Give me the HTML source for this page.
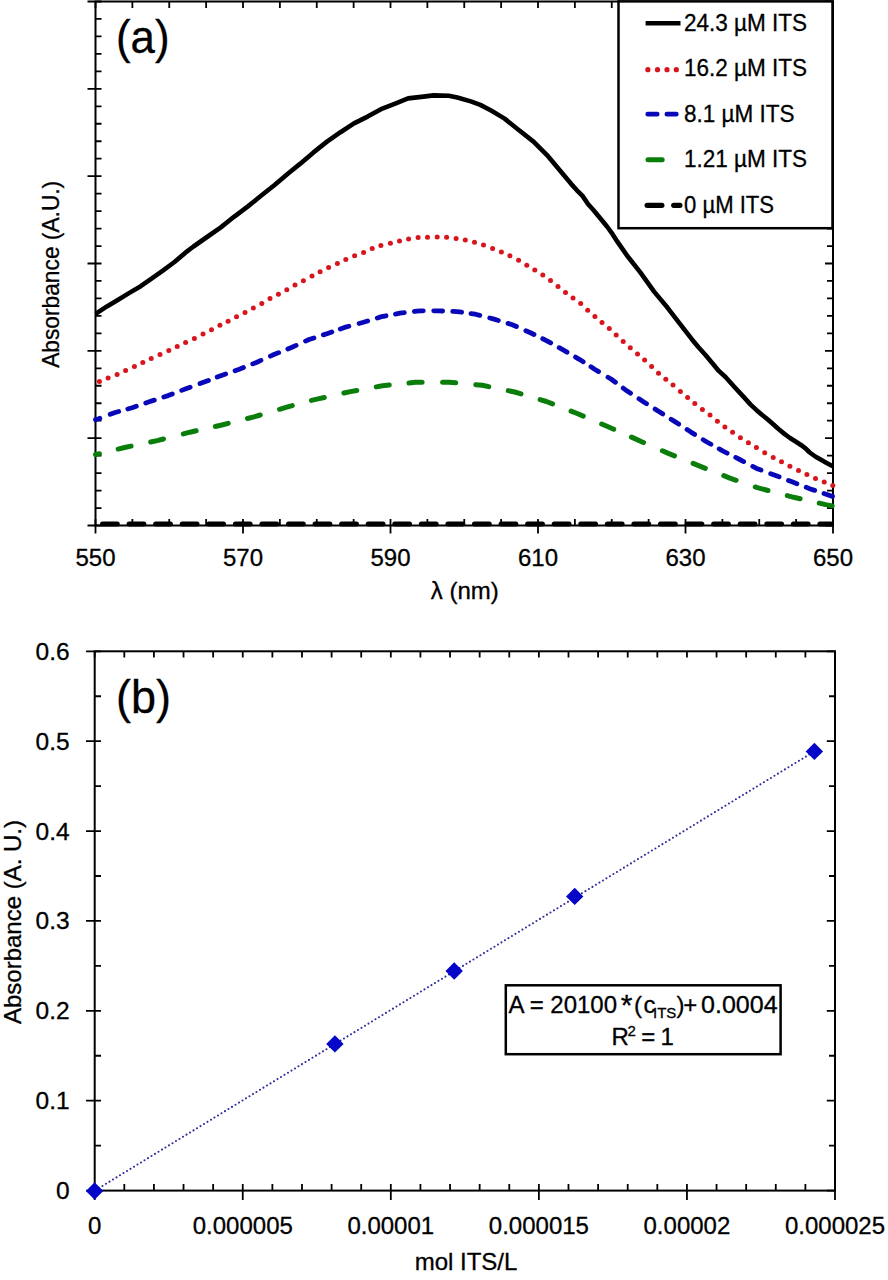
<!DOCTYPE html><html><head><meta charset="utf-8"><style>html,body{margin:0;padding:0;background:#fff}svg{display:block}</style></head><body><svg width="888" height="1280" viewBox="0 0 888 1280" style="font-family:'Liberation Sans',sans-serif">
<style>text{stroke:#000;stroke-width:0.3px}</style>
<rect width="888" height="1280" fill="#fff"/>
<path d="M87.5 1.50H101.5M95.5 18.97H101.5M95.5 36.43H101.5M95.5 53.90H101.5M95.5 71.37H101.5M87.5 88.83H101.5M95.5 106.30H101.5M95.5 123.77H101.5M95.5 141.23H101.5M95.5 158.70H101.5M87.5 176.17H101.5M95.5 193.63H101.5M95.5 211.10H101.5M95.5 228.57H101.5M95.5 246.03H101.5M87.5 263.50H101.5M95.5 280.97H101.5M95.5 298.43H101.5M95.5 315.90H101.5M95.5 333.37H101.5M87.5 350.83H101.5M95.5 368.30H101.5M95.5 385.77H101.5M95.5 403.23H101.5M95.5 420.70H101.5M87.5 438.17H101.5M95.5 455.63H101.5M95.5 473.10H101.5M95.5 490.57H101.5M95.5 508.03H101.5M87.5 525.50H101.5M825 1.50H833.0M827 18.97H833.0M827 36.43H833.0M827 53.90H833.0M827 71.37H833.0M825 88.83H833.0M827 106.30H833.0M827 123.77H833.0M827 141.23H833.0M827 158.70H833.0M825 176.17H833.0M827 193.63H833.0M827 211.10H833.0M827 228.57H833.0M827 246.03H833.0M825 263.50H833.0M827 280.97H833.0M827 298.43H833.0M827 315.90H833.0M827 333.37H833.0M825 350.83H833.0M827 368.30H833.0M827 385.77H833.0M827 403.23H833.0M827 420.70H833.0M825 438.17H833.0M827 455.63H833.0M827 473.10H833.0M827 490.57H833.0M827 508.03H833.0M825 525.50H833.0M95.50 519V533.5M132.38 519V525.5M169.25 519V525.5M206.12 519V525.5M243.00 519V533.5M279.88 519V525.5M316.75 519V525.5M353.62 519V525.5M390.50 519V533.5M427.38 519V525.5M464.25 519V525.5M501.12 519V525.5M538.00 519V533.5M574.88 519V525.5M611.75 519V525.5M648.62 519V525.5M685.50 519V533.5M722.38 519V525.5M759.25 519V525.5M796.12 519V525.5M833.00 519V533.5M95.50 1.5V8M132.38 1.5V8M169.25 1.5V8M206.12 1.5V8M243.00 1.5V8M279.88 1.5V8M316.75 1.5V8M353.62 1.5V8M390.50 1.5V8M427.38 1.5V8M464.25 1.5V8M501.12 1.5V8M538.00 1.5V8M574.88 1.5V8M611.75 1.5V8M648.62 1.5V8M685.50 1.5V8M722.38 1.5V8M759.25 1.5V8M796.12 1.5V8M833.00 1.5V8" stroke="#000" stroke-width="1.8" fill="none"/>
<rect x="95.5" y="1.5" width="737.5" height="524.0" fill="none" stroke="#000" stroke-width="2"/>
<path d="M95.50 454.50L98.10 454.00L99.41 453.68M118.19 449.07L124.60 447.50L131.06 446.13M150.64 441.97L157.10 440.60L163.49 438.97M183.31 433.91L190.00 432.20L196.14 430.81M215.36 426.46L221.80 425.00L228.20 423.39M247.50 418.51L253.90 416.90L260.23 415.02M279.57 409.28L285.90 407.40L292.25 405.61M311.43 400.36L318.00 398.90L324.31 397.47M343.86 393.05L350.30 391.60L356.79 390.42M376.21 386.88L382.70 385.70L389.26 385.00M408.94 382.90L415.50 382.20L422.10 382.20M442.60 382.20L449.20 382.20L455.77 382.82M475.73 384.68L482.30 385.30L488.76 386.64M508.24 390.66L514.70 392.00L521.02 393.89M540.08 399.61L546.40 401.50L552.55 403.90M571.05 411.10L577.20 413.50L583.27 416.10M601.63 423.98L607.50 426.50L613.73 429.25M631.50 437.11L636.00 439.10L642.70 442.20L643.52 442.56M662.35 450.76L668.40 453.40L674.52 455.88M693.08 463.42L699.20 465.90L705.33 468.34M723.77 475.66L729.90 478.10L736.13 480.28M755.25 486.98L757.30 487.70L767.97 490.51M787.32 495.62L793.70 497.30L800.13 498.77M819.27 503.13L825.70 504.60L832.18 505.88" fill="none" stroke="#0a7d0a" stroke-width="5" stroke-linecap="round" stroke-linejoin="round"/>
<path d="M95.50 419.60L98.75 418.75L99.82 418.34M110.20 414.36L114.40 412.75L118.73 411.53M127.77 408.97L132.10 407.75L136.35 406.27M145.75 402.98L150.00 401.50L154.28 400.11M163.82 396.99L168.10 395.60L172.30 393.98M181.70 390.37L185.90 388.75L190.12 387.19M199.98 383.56L204.20 382.00L208.41 380.41M217.19 377.09L221.40 375.50L225.64 374.01M235.06 370.69L239.30 369.20L243.48 367.54M252.72 363.86L256.90 362.20L261.01 360.36M270.39 356.14L274.50 354.30L278.68 352.63M287.82 348.97L292.00 347.30L296.09 345.42M305.52 341.10L309.00 339.50L313.92 337.91M323.32 334.88L327.60 333.50L331.83 331.97M340.27 328.93L344.50 327.40L348.84 326.23M359.06 323.47L363.40 322.30L367.69 320.96M377.31 317.94L381.60 316.60L386.02 315.78M395.48 314.02L399.90 313.20L404.37 312.67M414.35 311.47L420.00 310.80L423.31 310.80M433.70 310.80L438.20 310.80L442.70 310.99M452.70 311.41L457.20 311.60L461.65 312.24M470.95 313.56L475.40 314.20L479.75 315.34M489.75 317.96L494.10 319.10L498.40 320.42M508.00 323.38L512.30 324.70L516.41 326.53M525.84 330.71L531.00 333.00L534.01 334.48M542.70 338.74L546.90 340.80L550.67 342.92M559.19 347.70L563.10 349.90L567.00 352.17M575.51 357.10L579.30 359.30L583.17 361.81M590.94 366.83L594.60 369.20L598.58 371.58M607.99 377.20L611.00 379.00L615.41 382.29M623.19 388.11L626.80 390.80L630.55 393.28M638.97 398.84L643.00 401.50L646.53 403.72M655.09 409.10L658.90 411.50L662.71 413.90M671.09 419.20L674.90 421.60L678.66 424.07M687.04 429.57L690.90 432.10L694.63 434.41M703.16 439.68L706.90 442.00L710.91 444.25M719.18 448.90L723.10 451.10L727.12 453.13M735.68 457.47L739.70 459.50L743.68 461.61M752.77 466.43L756.50 468.40L760.98 470.06M770.68 473.64L774.90 475.20L779.10 476.83M788.50 480.47L792.70 482.10L796.90 483.71M806.20 487.29L810.40 488.90L814.66 490.36M823.94 493.54L828.20 495.00L832.48 496.40" fill="none" stroke="#0808b8" stroke-width="4.8" stroke-linecap="round" stroke-linejoin="round"/>
<g fill="#d8141c"><circle cx="99.4" cy="381.5" r="2.5"/><circle cx="108.1" cy="378.1" r="2.5"/><circle cx="117.1" cy="374.6" r="2.5"/><circle cx="125.6" cy="370.4" r="2.5"/><circle cx="134.4" cy="366.6" r="2.5"/><circle cx="142.8" cy="362.5" r="2.5"/><circle cx="151.2" cy="358.5" r="2.5"/><circle cx="160.0" cy="354.4" r="2.5"/><circle cx="168.8" cy="350.6" r="2.5"/><circle cx="177.2" cy="346.5" r="2.5"/><circle cx="185.6" cy="342.5" r="2.5"/><circle cx="194.4" cy="338.5" r="2.5"/><circle cx="203.0" cy="334.1" r="2.5"/><circle cx="211.5" cy="329.7" r="2.5"/><circle cx="219.9" cy="325.3" r="2.5"/><circle cx="228.1" cy="321.2" r="2.5"/><circle cx="236.5" cy="316.8" r="2.5"/><circle cx="245.0" cy="312.4" r="2.5"/><circle cx="253.4" cy="308.1" r="2.5"/><circle cx="261.8" cy="303.4" r="2.5"/><circle cx="270.0" cy="298.6" r="2.5"/><circle cx="278.4" cy="294.2" r="2.5"/><circle cx="286.8" cy="289.7" r="2.5"/><circle cx="295.0" cy="285.0" r="2.5"/><circle cx="303.4" cy="280.7" r="2.5"/><circle cx="312.0" cy="276.1" r="2.5"/><circle cx="320.1" cy="271.8" r="2.5"/><circle cx="328.6" cy="267.6" r="2.5"/><circle cx="337.4" cy="263.5" r="2.5"/><circle cx="345.8" cy="259.5" r="2.5"/><circle cx="354.6" cy="255.8" r="2.5"/><circle cx="363.6" cy="252.4" r="2.5"/><circle cx="372.2" cy="248.4" r="2.5"/><circle cx="380.9" cy="245.4" r="2.5"/><circle cx="390.4" cy="243.2" r="2.5"/><circle cx="399.5" cy="240.9" r="2.5"/><circle cx="408.6" cy="238.9" r="2.5"/><circle cx="418.1" cy="237.6" r="2.5"/><circle cx="427.5" cy="237.3" r="2.5"/><circle cx="437.2" cy="236.9" r="2.5"/><circle cx="446.6" cy="237.3" r="2.5"/><circle cx="456.1" cy="238.5" r="2.5"/><circle cx="465.3" cy="240.0" r="2.5"/><circle cx="474.5" cy="242.3" r="2.5"/><circle cx="483.5" cy="245.1" r="2.5"/><circle cx="492.6" cy="248.5" r="2.5"/><circle cx="501.4" cy="252.0" r="2.5"/><circle cx="509.9" cy="255.8" r="2.5"/><circle cx="518.6" cy="260.3" r="2.5"/><circle cx="526.8" cy="265.3" r="2.5"/><circle cx="534.8" cy="270.1" r="2.5"/><circle cx="542.8" cy="275.1" r="2.5"/><circle cx="550.5" cy="280.5" r="2.5"/><circle cx="558.0" cy="286.4" r="2.5"/><circle cx="565.5" cy="292.4" r="2.5"/><circle cx="573.0" cy="298.1" r="2.5"/><circle cx="580.7" cy="303.6" r="2.5"/><circle cx="587.7" cy="310.3" r="2.5"/><circle cx="594.9" cy="316.5" r="2.5"/><circle cx="602.0" cy="322.6" r="2.5"/><circle cx="609.3" cy="328.6" r="2.5"/><circle cx="616.2" cy="335.0" r="2.5"/><circle cx="623.2" cy="341.5" r="2.5"/><circle cx="630.3" cy="347.7" r="2.5"/><circle cx="637.5" cy="353.9" r="2.5"/><circle cx="644.6" cy="360.0" r="2.5"/><circle cx="651.6" cy="366.5" r="2.5"/><circle cx="658.5" cy="373.2" r="2.5"/><circle cx="665.8" cy="379.3" r="2.5"/><circle cx="673.0" cy="385.1" r="2.5"/><circle cx="680.4" cy="391.5" r="2.5"/><circle cx="687.6" cy="397.6" r="2.5"/><circle cx="694.8" cy="403.6" r="2.5"/><circle cx="702.4" cy="409.5" r="2.5"/><circle cx="710.0" cy="415.1" r="2.5"/><circle cx="717.4" cy="421.2" r="2.5"/><circle cx="724.9" cy="426.9" r="2.5"/><circle cx="732.6" cy="432.3" r="2.5"/><circle cx="740.4" cy="437.7" r="2.5"/><circle cx="748.4" cy="442.8" r="2.5"/><circle cx="756.4" cy="447.5" r="2.5"/><circle cx="764.7" cy="452.8" r="2.5"/><circle cx="773.2" cy="457.4" r="2.5"/><circle cx="781.5" cy="461.8" r="2.5"/><circle cx="789.9" cy="466.2" r="2.5"/><circle cx="798.5" cy="470.4" r="2.5"/><circle cx="806.9" cy="474.5" r="2.5"/><circle cx="815.5" cy="478.4" r="2.5"/><circle cx="824.2" cy="482.1" r="2.5"/><circle cx="832.8" cy="485.6" r="2.5"/></g>
<polyline points="95.6,313.8 106.9,306.4 118.2,299.7 129.4,292.9 140.7,286.2 151.9,278.3 163.2,270.4 174.5,262.0 185.7,252.4 193.5,246.5 207.0,237.0 220.5,227.6 234.0,216.8 247.6,206.6 261.0,195.8 274.6,185.0 288.1,173.5 300.0,163.9 313.5,152.4 327.0,141.6 340.5,132.2 354.0,123.4 367.6,116.6 381.0,109.2 394.6,103.8 408.1,98.4 423.5,96.6 433.5,95.4 448.8,95.8 457.3,97.5 470.8,101.4 480.3,104.9 491.1,110.5 504.6,118.6 518.1,129.5 533.5,141.6 547.0,155.1 561.0,171.8 571.3,184.1 576.9,190.3 582.5,195.9 588.2,204.3 593.8,210.5 599.4,217.3 607.0,226.5 612.4,233.9 617.2,241.4 621.9,248.1 627.0,255.5 640.5,272.7 654.1,291.6 667.6,307.8 681.1,325.4 685.0,330.4 691.8,339.2 698.5,347.3 705.3,354.7 712.0,362.8 718.8,370.9 725.5,377.0 734.0,386.5 745.0,398.4 750.6,404.6 756.3,409.9 761.9,414.7 767.5,419.2 773.2,424.3 778.8,429.3 784.4,433.9 790.0,438.0 795.6,441.5 801.3,445.2 805.8,448.6 809.7,452.5 815.3,456.5 821.0,459.8 826.6,462.9 832.8,466.3" fill="none" stroke="#000" stroke-width="4.6" stroke-linejoin="round"/>
<line x1="102.5" y1="524.1" x2="831" y2="524.1" stroke="#000" stroke-width="5" stroke-linecap="round" stroke-dasharray="14.8 11.77"/>
<rect x="618.5" y="1.4" width="214" height="226.8" fill="#fff" stroke="#000" stroke-width="2.5"/>
<line x1="645.6" y1="23.2" x2="680.5" y2="23.2" stroke="#000" stroke-width="4.6"/>
<g fill="#d8141c"><circle cx="647.9" cy="69.7" r="2.6"/><circle cx="657.5" cy="69.7" r="2.6"/><circle cx="667" cy="69.7" r="2.6"/><circle cx="676.3" cy="69.7" r="2.6"/></g>
<path d="M647.8 114.2H657.2M666.9 114.2H676.3" stroke="#0808b8" stroke-width="4.8" stroke-linecap="round"/>
<path d="M648 159.7H662.2" stroke="#0a7d0a" stroke-width="5" stroke-linecap="round"/>
<path d="M647.1 205.3H661.9M673.7 205.3H679.9" stroke="#000" stroke-width="5.2" stroke-linecap="round"/>
<text x="684" y="31.0" font-size="24" textLength="123.1" lengthAdjust="spacingAndGlyphs">24.3 µM ITS</text>
<text x="684" y="76.4" font-size="24" textLength="123.1" lengthAdjust="spacingAndGlyphs">16.2 µM ITS</text>
<text x="684" y="121.8" font-size="24" textLength="110.5" lengthAdjust="spacingAndGlyphs">8.1 µM ITS</text>
<text x="684" y="167.2" font-size="24" textLength="123.1" lengthAdjust="spacingAndGlyphs">1.21 µM ITS</text>
<text x="684" y="212.6" font-size="24" textLength="90" lengthAdjust="spacingAndGlyphs">0 µM ITS</text>
<text x="116" y="53.3" font-size="46" textLength="53.6" lengthAdjust="spacingAndGlyphs">(a)</text>
<text x="95.5" y="566" font-size="24" text-anchor="middle">550</text>
<text x="243.0" y="566" font-size="24" text-anchor="middle">570</text>
<text x="390.5" y="566" font-size="24" text-anchor="middle">590</text>
<text x="538.0" y="566" font-size="24" text-anchor="middle">610</text>
<text x="685.5" y="566" font-size="24" text-anchor="middle">630</text>
<text x="833.0" y="566" font-size="24" text-anchor="middle">650</text>
<text x="464.8" y="598.6" font-size="24" text-anchor="middle">λ (nm)</text>
<text transform="translate(58.7 274.3) rotate(-90)" font-size="24" text-anchor="middle" textLength="187" lengthAdjust="spacingAndGlyphs">Absorbance (A.U.)</text>
<path d="M86 651.30H101M826.8 651.30H835.0M94.7 696.24H101M829 696.24H835.0M86 741.18H101M826.8 741.18H835.0M94.7 786.12H101M829 786.12H835.0M86 831.07H101M826.8 831.07H835.0M94.7 876.01H101M829 876.01H835.0M86 920.95H101M826.8 920.95H835.0M94.7 965.89H101M829 965.89H835.0M86 1010.83H101M826.8 1010.83H835.0M94.7 1055.77H101M829 1055.77H835.0M86 1100.72H101M826.8 1100.72H835.0M94.7 1145.66H101M829 1145.66H835.0M86 1190.60H101M826.8 1190.60H835.0M94.70 1184V1200M94.70 651.3V657.5M124.31 1184V1190.6M124.31 651.3V657.5M153.92 1184V1190.6M153.92 651.3V657.5M183.54 1184V1190.6M183.54 651.3V657.5M213.15 1184V1190.6M213.15 651.3V657.5M242.76 1184V1200M242.76 651.3V657.5M272.37 1184V1190.6M272.37 651.3V657.5M301.98 1184V1190.6M301.98 651.3V657.5M331.60 1184V1190.6M331.60 651.3V657.5M361.21 1184V1190.6M361.21 651.3V657.5M390.82 1184V1200M390.82 651.3V657.5M420.43 1184V1190.6M420.43 651.3V657.5M450.04 1184V1190.6M450.04 651.3V657.5M479.66 1184V1190.6M479.66 651.3V657.5M509.27 1184V1190.6M509.27 651.3V657.5M538.88 1184V1200M538.88 651.3V657.5M568.49 1184V1190.6M568.49 651.3V657.5M598.10 1184V1190.6M598.10 651.3V657.5M627.72 1184V1190.6M627.72 651.3V657.5M657.33 1184V1190.6M657.33 651.3V657.5M686.94 1184V1200M686.94 651.3V657.5M716.55 1184V1190.6M716.55 651.3V657.5M746.16 1184V1190.6M746.16 651.3V657.5M775.78 1184V1190.6M775.78 651.3V657.5M805.39 1184V1190.6M805.39 651.3V657.5M835.00 1184V1200M835.00 651.3V657.5" stroke="#000" stroke-width="1.8" fill="none"/>
<rect x="94.7" y="651.3" width="740.3" height="539.3" fill="none" stroke="#000" stroke-width="2"/>
<text x="69.6" y="1199.0" font-size="24.5" text-anchor="end">0</text>
<text x="69.6" y="1109.1" font-size="24.5" text-anchor="end">0.1</text>
<text x="69.6" y="1019.2" font-size="24.5" text-anchor="end">0.2</text>
<text x="69.6" y="929.3" font-size="24.5" text-anchor="end">0.3</text>
<text x="69.6" y="839.5" font-size="24.5" text-anchor="end">0.4</text>
<text x="69.6" y="749.6" font-size="24.5" text-anchor="end">0.5</text>
<text x="69.6" y="659.7" font-size="24.5" text-anchor="end">0.6</text>
<text x="94.7" y="1234" font-size="24" text-anchor="middle">0</text>
<text x="242.8" y="1234" font-size="24" text-anchor="middle">0.000005</text>
<text x="390.8" y="1234" font-size="24" text-anchor="middle">0.00001</text>
<text x="538.9" y="1234" font-size="24" text-anchor="middle">0.000015</text>
<text x="686.9" y="1234" font-size="24" text-anchor="middle">0.00002</text>
<text x="835.0" y="1234" font-size="24" text-anchor="middle">0.000025</text>
<text x="466" y="1269.8" font-size="24" text-anchor="middle">mol ITS/L</text>
<text transform="translate(21.3 922) rotate(-90)" font-size="24" text-anchor="middle">Absorbance (A. U.)</text>
<text x="116" y="712.8" font-size="47" textLength="55" lengthAdjust="spacingAndGlyphs">(b)</text>
<line x1="95.5" y1="1190.2" x2="814.4" y2="751.4" stroke="#2c2c9c" stroke-width="2.1" stroke-linecap="round" stroke-dasharray="0 4.1"/>
<path d="M94.6 1182.3L103.3 1191.0L94.6 1199.7L85.9 1191.0Z" fill="#0606c8"/>
<path d="M334.9 1035.2L343.6 1043.9L334.9 1052.6L326.2 1043.9Z" fill="#0606c8"/>
<path d="M454.2 962.3L462.9 971.0L454.2 979.7L445.5 971.0Z" fill="#0606c8"/>
<path d="M574.7 887.7L583.4 896.4L574.7 905.1L566.0 896.4Z" fill="#0606c8"/>
<path d="M814.4 742.7L823.1 751.4L814.4 760.1L805.7 751.4Z" fill="#0606c8"/>
<rect x="505.8" y="985.3" width="274.8" height="68.9" fill="#fff" stroke="#000" stroke-width="2.5"/>
<text y="1012.6" font-size="24"><tspan x="508.5">A</tspan><tspan x="529.8">=</tspan><tspan x="550.3">20100</tspan><tspan x="620.7" y="1014.5" font-size="30">*</tspan><tspan x="634" y="1012.6">(</tspan><tspan x="643.5">c</tspan><tspan x="653" y="1018.3" font-size="15">ITS</tspan><tspan x="676.6" y="1012.6">)</tspan><tspan x="683.3">+</tspan></text>
<text x="701" y="1012.6" font-size="24" textLength="76.6" lengthAdjust="spacingAndGlyphs">0.0004</text>
<text y="1045.2" font-size="24"><tspan x="611.5">R</tspan><tspan x="627.5" y="1036.3" font-size="15">2</tspan><tspan x="641.2" y="1045.2">=</tspan><tspan x="660.5">1</tspan></text>
</svg></body></html>
